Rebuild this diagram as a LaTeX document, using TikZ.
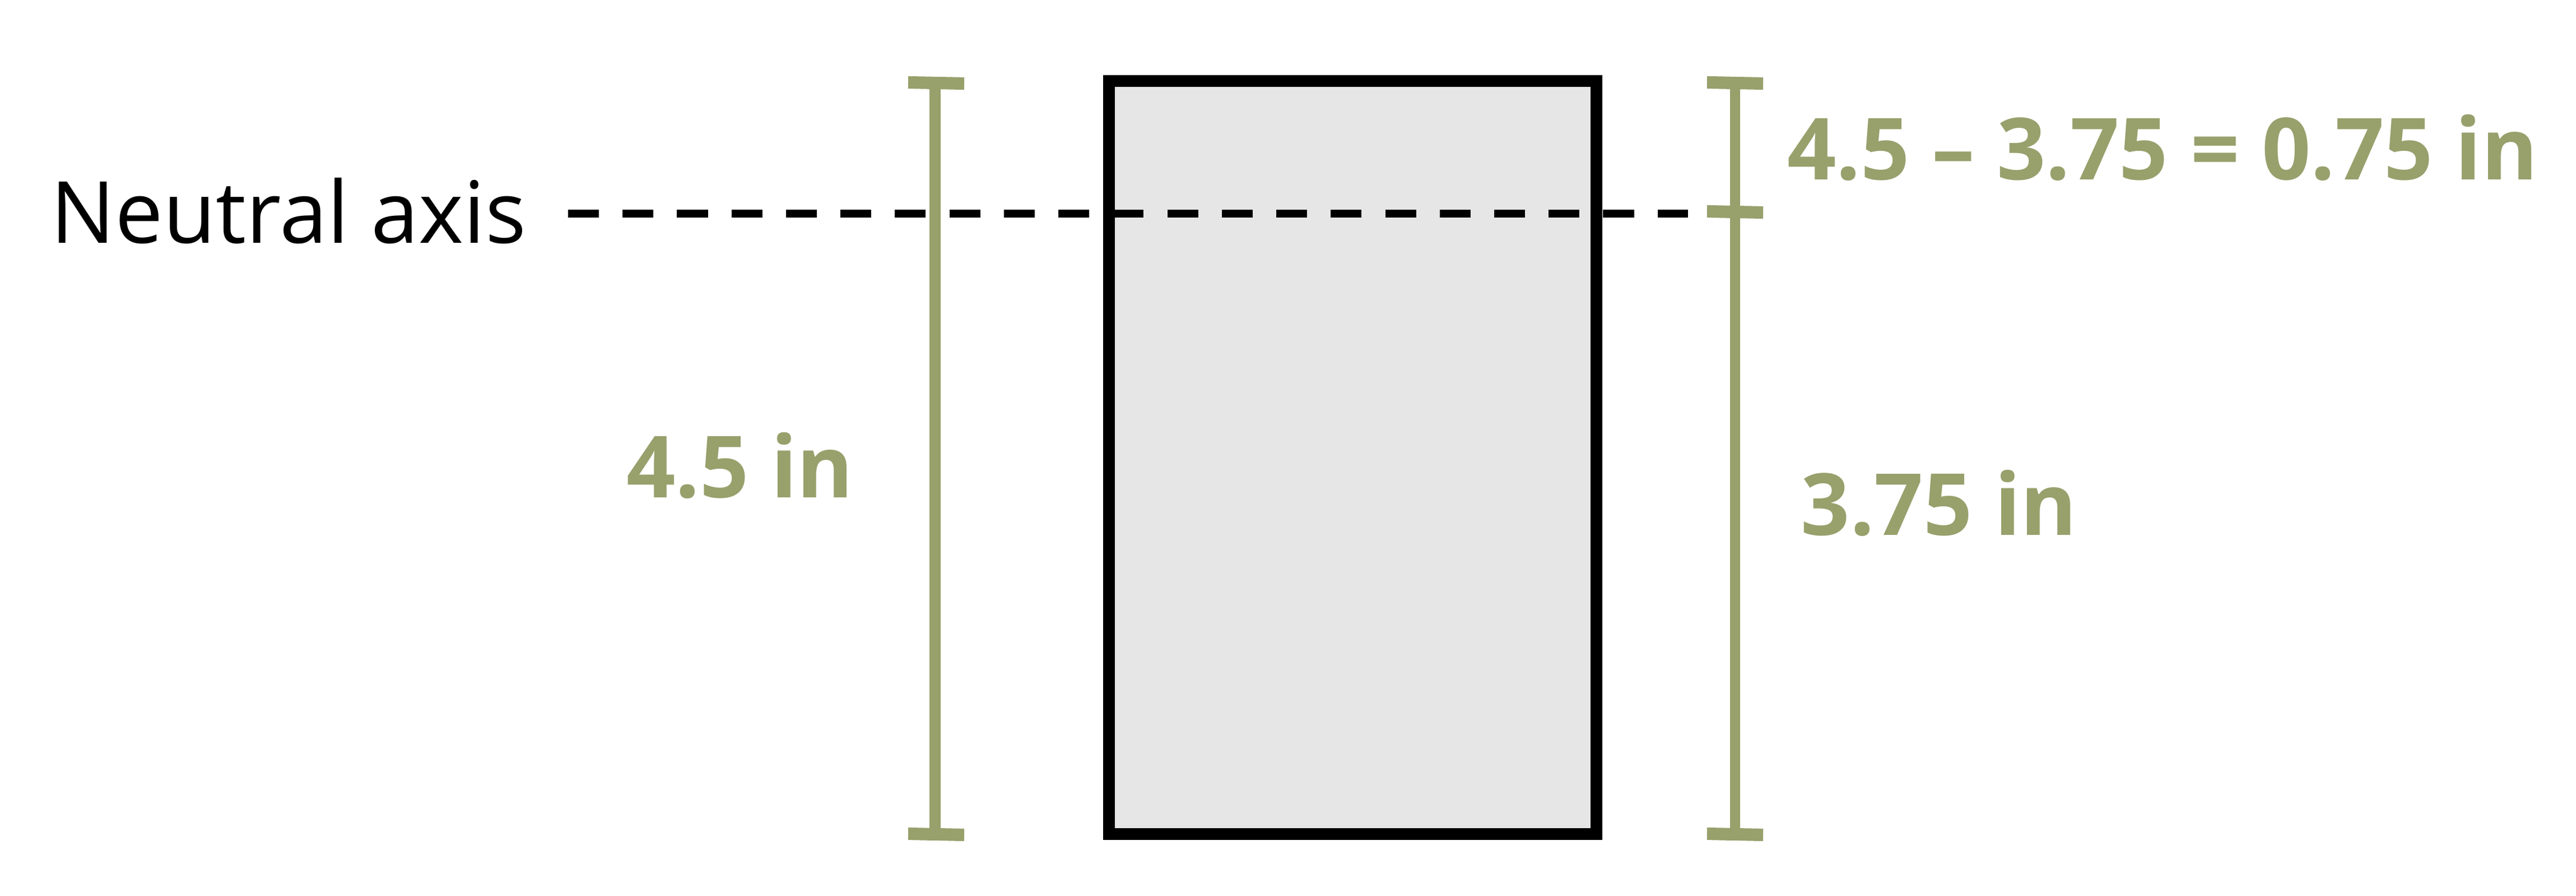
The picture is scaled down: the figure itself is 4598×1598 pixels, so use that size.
\documentclass[tikz,border=0pt]{standalone}
\usepackage{fontspec}
\setmainfont{Open Sans}
\definecolor{olive}{RGB}{152,160,108}
\definecolor{beamgray}{RGB}{230,230,230}
\begin{document}
\begin{tikzpicture}[x=0.01cm,y=-0.01cm,
  lbl/.style={inner sep=0pt,anchor=base,font=\fontsize{43.5}{52}\selectfont},
  dimlbl/.style={lbl,text=olive,font=\fontsize{43.5}{52}\selectfont\bfseries},
  barline/.style={draw=olive,line width=5.5pt,line cap=butt},
  capline/.style={draw=olive,line width=6.3pt,line cap=butt},
  axisline/.style={draw=black,line width=4pt,dash pattern=on 15.65pt off 12pt},
  beambox/.style={draw=black,fill=beamgray,line width=5.97pt,minimum width=8.7cm,minimum height=13.43cm,inner sep=0pt,outer sep=0pt}]
\useasboundingbox (0,0) rectangle (4598,1598);
% beam section
\node[beambox] (beam) at (2414.5,816) {};
% neutral axis
\coordinate (na-start) at (1014,381);
\coordinate (na-end) at (3013,381);
\draw[axisline] (na-start) -- (na-end);
\draw[draw=black,line width=5.97pt] (beam.north west) rectangle (beam.south east);
\node[lbl] (natext) at (515,434) {Neutral axis};
% left dimension bar
\coordinate (lt) at (1669,148);
\coordinate (lb) at (1669,1488);
\draw[barline] (lt) -- (lb);
\draw[capline] (1621,147) -- (1721,149);
\draw[capline] (1621,1487) -- (1721,1489);
% right dimension bar
\coordinate (rt) at (3097,148);
\coordinate (rm) at (3097,378);
\coordinate (rb) at (3097,1488);
\draw[barline,line width=5.1pt] (rt) -- (rb);
\draw[capline] (3047,147) -- (3147,149);
\draw[capline] (3047,377) -- (3147,379);
\draw[capline] (3047,1487) -- (3147,1489);
% labels
\node[dimlbl] (h) at (1321,888) {4.5 in};
\node[dimlbl] (hb) at (3461,955) {3.75 in};
\node[dimlbl] (ht) at (3860,321) {4.5 – 3.75 = 0.75 in};
\end{tikzpicture}
\end{document}
